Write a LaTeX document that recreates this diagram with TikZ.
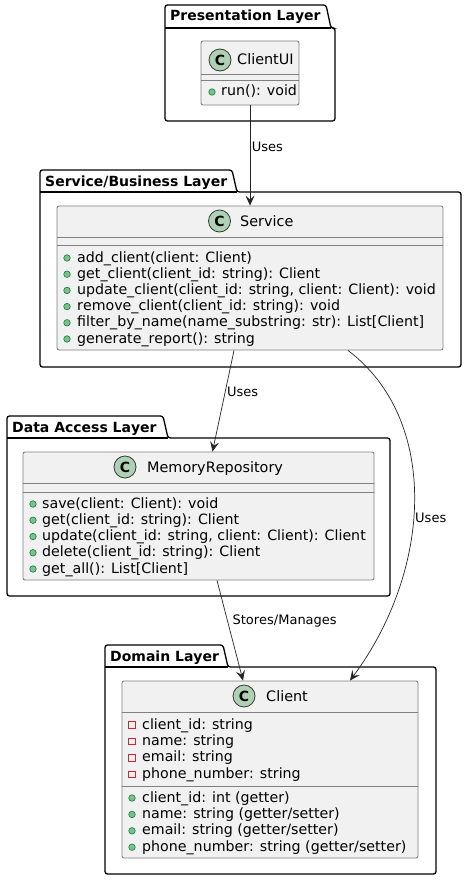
\documentclass[tikz,border=0pt]{standalone}
\usepackage{fontspec}
\setmainfont{DejaVu Sans}[Kerning=Off]
\usetikzlibrary{arrows.meta, positioning, calc}
\definecolor{classbg}{HTML}{F1F1F1}
\definecolor{classline}{HTML}{808080}
\definecolor{spotbg}{HTML}{ADD1B2}
\definecolor{spotline}{HTML}{383838}
\definecolor{pubfill}{HTML}{84BE84}
\definecolor{publine}{HTML}{038048}
\definecolor{privline}{HTML}{C82930}
\tikzset{%
	pkg/.style={draw=black, line width=1.3pt, fill=white, rounded corners=2.5pt},
	pkgtitle/.style={anchor=base west, inner sep=0pt, font=\bfseries\fontsize{14}{16}\selectfont},
	classbox/.style={draw=classline, line width=0.9pt, fill=classbg, rounded corners=2pt, inner sep=0pt},
	sepline/.style={draw=classline, line width=0.9pt},
	spot/.style={circle, draw=spotline, line width=0.8pt, fill=spotbg, minimum size=22pt,%
		inner sep=0pt, font=\bfseries\fontsize{14}{14}\selectfont},
	cname/.style={anchor=base west, inner sep=0pt, font=\fontsize{14.4}{16}\selectfont},
	member/.style={anchor=base west, inner sep=0pt, font=\fontsize{14.2}{16}\selectfont},
	pub/.style={circle, draw=publine, fill=pubfill, line width=0.6pt, minimum size=6.5pt, inner sep=0pt},
	priv/.style={rectangle, draw=privline, line width=0.8pt, minimum size=6.5pt, inner sep=0pt},
	uses/.style={-{Stealth[length=10pt, width=9pt, inset=4pt]}, line width=0.7pt, draw=black!85},
	rel/.style={anchor=west, inner sep=1.5pt, font=\fontsize{13}{15}\selectfont}
}
% name, left, top, tab bottom, tab end, right, bottom, title
\newcommand{\umlpackage}[8]{%
	\path[pkg] (#2,#3) -- (#5,#3) -- ({#5+5},#4) -- (#6,#4) -- (#6,#7) -- (#2,#7) -- cycle;
	\draw[line width=1.3pt] (#2,#4) -- ({#5+5},#4);
	\node[pkgtitle] (#1) at ({#2+5},{#3+16}) {#8};
}
\begin{document}
\begin{tikzpicture}[x=1pt, y=-1pt]
	\fill[white] (0,0) rectangle (466,880);
	\useasboundingbox (0,0) rectangle (466,880);

	% packages
	\umlpackage{pres}{165}{5}{28}{326}{335}{121}{Presentation Layer}
	\umlpackage{serv}{40}{170}{192}{232}{461}{367}{Service/Business Layer}
	\umlpackage{data}{7}{416}{438}{163}{390}{596}{Data Access Layer}
	\umlpackage{dom}{105}{645}{667}{223}{436}{874}{Domain Layer}

	% ClientUI
	\node[classbox, minimum width=98pt, minimum height=64pt] (cui) at (250,73) {};
	\node[spot] (cui-spot) at (220,60) {C};
	\node[cname] (cui-name) at (237,65) {ClientUI};
	\draw[sepline] (cui.west |- 0,74) -- (cui.east |- 0,74);
	\draw[sepline] (cui.west |- 0,80) -- (cui.east |- 0,80);
	\node[pub] (cui-d0) at (212,92) {};
	\node[member] (cui-m0) at (221,96) {run(): void};

	% Service
	\node[classbox, minimum width=386pt, minimum height=144pt] (svc) at (250,278) {};
	\node[spot] (svc-spot) at (219.5,221) {C};
	\node[cname] (svc-name) at (240,226) {Service};
	\draw[sepline] (svc.west |- 0,237) -- (svc.east |- 0,237);
	\draw[sepline] (svc.west |- 0,245) -- (svc.east |- 0,245);
	\foreach \txt [count=\i from 0] in {{add\_client(client: Client)},
		{get\_client(client\_id: string): Client},
		{update\_client(client\_id: string, client: Client): void},
		{remove\_client(client\_id: string): void},
		{filter\_by\_name(name\_substring: str): List[Client]},
		{generate\_report(): string}} {
		\node[pub] (svc-d\i) at (67,{258+16.2*\i}) {};
		\node[member] (svc-m\i) at (77,{262+16.2*\i}) {\txt};
	}

	% MemoryRepository
	\node[classbox, minimum width=351pt, minimum height=128pt] (repo) at (198.5,516) {};
	\node[spot] (repo-spot) at (125,467) {C};
	\node[cname] (repo-name) at (147,472) {MemoryRepository};
	\draw[sepline] (repo.west |- 0,483) -- (repo.east |- 0,483);
	\draw[sepline] (repo.west |- 0,492) -- (repo.east |- 0,492);
	\foreach \txt [count=\i from 0] in {{save(client: Client): void},
		{get(client\_id: string): Client},
		{update(client\_id: string, client: Client): Client},
		{delete(client\_id: string): Client},
		{get\_all(): List[Client]}} {
		\node[pub] (repo-d\i) at (33,{504+16.25*\i}) {};
		\node[member] (repo-m\i) at (42,{508+16.25*\i}) {\txt};
	}

	% Client
	\node[classbox, minimum width=296pt, minimum height=177pt] (cli) at (270,769.5) {};
	\node[spot] (cli-spot) at (244,696) {C};
	\node[cname] (cli-name) at (266,701) {Client};
	\draw[sepline] (cli.west |- 0,712) -- (cli.east |- 0,712);
	\draw[sepline] (cli.west |- 0,786) -- (cli.east |- 0,786);
	\foreach \txt [count=\i from 0] in {{client\_id: string}, {name: string},
		{email: string}, {phone\_number: string}} {
		\node[priv] (cli-f\i) at (132,{725+16.4*\i}) {};
		\node[member] (cli-a\i) at (142,{729+16.4*\i}) {\txt};
	}
	\foreach \txt [count=\i from 0] in {{client\_id: int (getter)},
		{name: string (getter/setter)}, {email: string (getter/setter)},
		{phone\_number: string (getter/setter)}} {
		\node[pub] (cli-d\i) at (132,{798+16.4*\i}) {};
		\node[member] (cli-m\i) at (142,{802+16.4*\i}) {\txt};
	}

	% relations
	\draw[uses] (cui) -- node[rel, pos=0.41] {Uses} (svc);
	\draw[uses] ([xshift=-16pt]svc.south) -- node[rel, pos=0.41] {Uses} ([xshift=14pt]repo.north);
	\draw[uses] ([xshift=98pt]svc.south) .. controls (440,420) and (432,570) ..
		node[rel, pos=0.55] {Uses} ([xshift=80pt]cli.north);
	\draw[uses] ([xshift=18.5pt]repo.south) -- node[rel, pos=0.41, xshift=3pt] {Stores/Manages} ([xshift=-27pt]cli.north);
\end{tikzpicture}
\end{document}
